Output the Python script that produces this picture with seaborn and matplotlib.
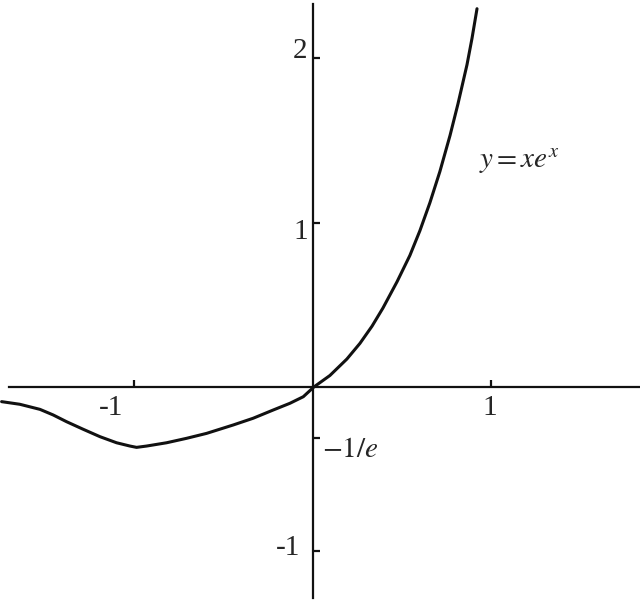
import numpy as np
import pandas as pd
import seaborn as sns
import matplotlib
matplotlib.use("Agg")
import matplotlib.pyplot as plt

x_vals = [-1.744, -1.642, -1.529, -1.455, -1.380, -1.287, -1.193, -1.100, -1.025, -0.988,
          -0.932, -0.820, -0.708, -0.596, -0.447, -0.335, -0.223, -0.129, -0.054, 0.005,
          0.095, 0.190, 0.263, 0.331, 0.392, 0.471, 0.543, 0.599, 0.655, 0.711,
          0.768, 0.812, 0.863, 0.891, 0.919]
y_vals = [-0.089, -0.105, -0.136, -0.170, -0.211, -0.257, -0.302, -0.339, -0.359, -0.367,
          -0.359, -0.339, -0.312, -0.282, -0.231, -0.190, -0.140, -0.099, -0.059, 0.0,
          0.07, 0.17, 0.265, 0.37, 0.48, 0.64, 0.80, 0.95, 1.12, 1.31,
          1.53, 1.72, 1.96, 2.12, 2.30]

x_ticks = [-1, 1]
x_tick_labels = ["-1", "1"]
y_ticks = [2, 1, -0.31, -1]
y_tick_labels = ["2", "1", r"$-1/e$", "-1"]

df = pd.DataFrame({"x": x_vals, "y": y_vals})

sns.set_style("white")
plt.rcParams["font.family"] = ["Liberation Serif", "DejaVu Serif"]
plt.rcParams["mathtext.fontset"] = "stix"

fig = plt.figure(figsize=(6.4, 6.0), dpi=100)
ax = fig.add_axes([0, 0, 1, 1])

sns.lineplot(data=df, x="x", y="y", color="#111111", linewidth=2.2, estimator=None,
             solid_joinstyle="round", solid_capstyle="round", ax=ax)

ax.set_xlim(-1.753, 1.832)
ax.set_ylim(-1.295, 2.353)

# axes through the origin
for side in ["top", "right"]:
    ax.spines[side].set_visible(False)
ax.spines["left"].set_position(("data", 0))
ax.spines["bottom"].set_position(("data", 0))
ax.spines["left"].set_bounds(-1.28, 2.33)
ax.spines["bottom"].set_bounds(-1.70, 1.832)
for side in ["left", "bottom"]:
    ax.spines[side].set_color("#111111")
    ax.spines[side].set_linewidth(1.6)

ax.set_xticks(x_ticks)
ax.set_yticks(y_ticks)
ax.set_xticklabels([])
ax.set_yticklabels([])
ax.tick_params(bottom=True, left=True, direction="in", length=5, width=1.6, color="#111111")
ax.set_xlabel("")
ax.set_ylabel("")

# tick labels placed like the hand-lettered originals
ax.text(-1.13, -0.05, x_tick_labels[0], fontsize=21, ha="center", va="top")
ax.text(0.99, -0.05, x_tick_labels[1], fontsize=21, ha="center", va="top")
ax.text(-0.03, 2.04, y_tick_labels[0], fontsize=21, ha="right", va="center")
ax.text(-0.03, 0.94, y_tick_labels[1], fontsize=21, ha="right", va="center")
ax.text(0.05, -0.38, y_tick_labels[2], fontsize=21, ha="left", va="center")
ax.text(-0.07, -0.98, y_tick_labels[3], fontsize=21, ha="right", va="center")

ax.text(0.93, 1.37, r"$y = xe^x$", fontsize=21, ha="left", va="center")

fig.savefig("out.png", dpi=100)
